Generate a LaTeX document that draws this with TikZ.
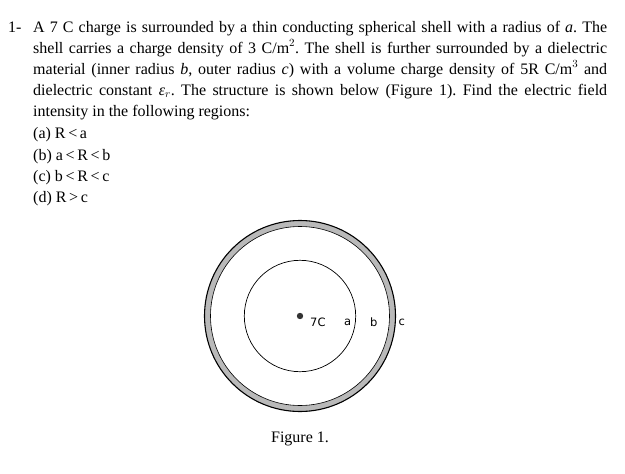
\documentclass[tikz,border=0pt]{standalone}
\usepackage{fontspec}
\setmainfont{Liberation Serif}
\newfontfamily\figsans{DejaVu Sans}
\frenchspacing
\newcommand{\jl}[1]{\makebox[574pt][s]{#1}}
\begin{document}
\begin{tikzpicture}[x=1pt,y=-1pt,
  txt/.style={anchor=base west,inner sep=0pt,font=\fontsize{16}{18}\selectfont},
  lbl/.style={inner sep=0pt,font=\figsans\fontsize{11.5}{13}\selectfont}]
\useasboundingbox[fill=white] (0,0) rectangle (625,474);
\node[txt] (num) at (8,32) {1-};
\node[txt] (l1) at (33,32) {\jl{A 7 C charge is surrounded by a thin conducting spherical shell with a radius of \textit{a}. The}};
\node[txt] (l2) at (33,53) {\jl{shell carries a charge density of 3 C/m$^{2}$. The shell is further surrounded by a dielectric}};
\node[txt] (l3) at (33,74) {\jl{material (inner radius \textit{b}, outer radius \textit{c}) with a volume charge density of 5R C/m$^{3}$ and}};
\node[txt] (l4) at (33,95) {\jl{dielectric constant \textit{ε}$_{r}$. The structure is shown below (Figure 1). Find the electric field}};
\node[txt] (l5) at (33,116) {intensity in the following regions:};
\node[txt] (qa) at (33,138) {(a) R\,<\,a};
\node[txt] (qb) at (33,160) {(b) a\,<\,R\,<\,b};
\node[txt] (qc) at (33,181) {(c) b\,<\,R\,<\,c};
\node[txt] (qd) at (33,202) {(d) R\,>\,c};
\coordinate (o) at (300,316);
\fill[gray!55,even odd rule] (o) circle (95.5) (o) circle (89.5);
\draw[line width=1.1pt] (o) circle (95.5);
\draw[line width=0.6pt] (o) circle (89.5);
\draw[line width=0.7pt] (o) circle (55.7);
\fill[black!80] (o) circle (3.2);
\node[lbl,anchor=west] (q) at (310,322) {7C};
\node[lbl,anchor=west] (a) at (344,322) {a};
\node[lbl,anchor=west] (b) at (370,322) {b};
\node[lbl,anchor=west] (c) at (398.5,322) {c};
\node[txt,anchor=base] (fig) at (300,442) {Figure 1.};
\end{tikzpicture}
\end{document}
